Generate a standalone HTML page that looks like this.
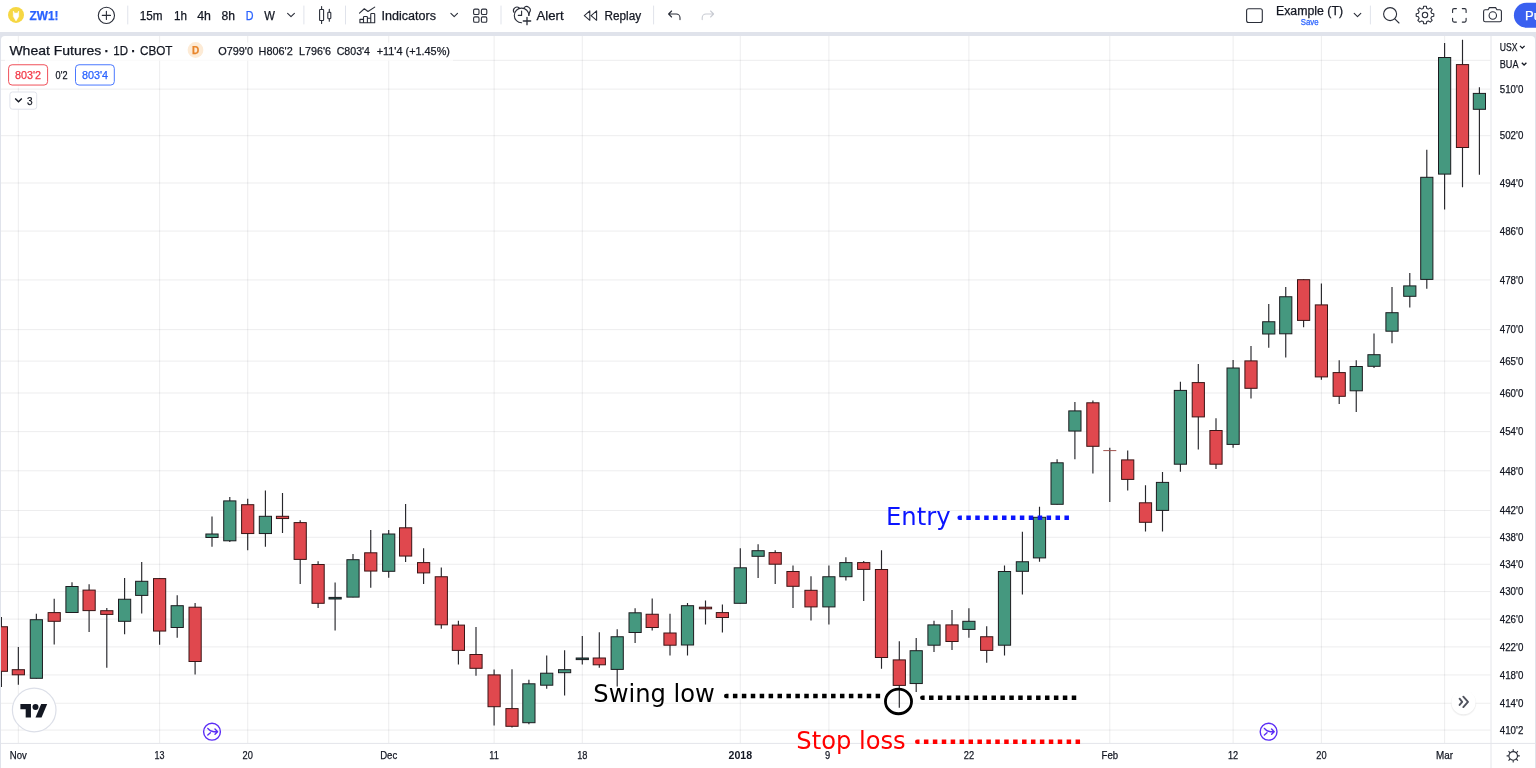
<!DOCTYPE html>
<html lang="en"><head><meta charset="utf-8"><title>Wheat Futures 1D CBOT</title>
<style>
html,body{margin:0;padding:0;background:#fff;overflow:hidden}
body{width:1536px;height:768px;position:relative;font-family:"Liberation Sans",sans-serif}
svg{position:absolute;left:0;top:0;display:block}
text{font-family:"Liberation Sans",sans-serif;fill:#131722}
.th{stroke:#131722;stroke-width:0.25px}
.dj{font-family:"DejaVu Sans","Liberation Sans",sans-serif}
.ic{fill:none;stroke:#2a2e39;stroke-width:1.1;stroke-linecap:round;stroke-linejoin:round}
</style></head><body>
<svg width="1536" height="768" viewBox="0 0 1536 768">
<rect x="0" y="0" width="1536" height="768" fill="#ffffff"/>
<rect x="0" y="32" width="1536" height="736" fill="#e0e3eb"/>
<path d="M1 768V40a4 4 0 0 1 4-4H1531a4 4 0 0 1 4 4V768z" fill="#ffffff"/>
<path d="M18.35 36V743M159.60 36V743M247.70 36V743M388.70 36V743M494.10 36V743M582.30 36V743M740.30 36V743M828.90 36V743M968.90 36V743M1109.80 36V743M1233.10 36V743M1321.40 36V743M1444.60 36V743M1 60.37H1490.5M1 89.10H1490.5M1 135.66H1490.5M1 182.97H1490.5M1 231.06H1490.5M1 279.94H1490.5M1 329.64H1490.5M1 361.14H1490.5M1 392.98H1490.5M1 431.64H1490.5M1 470.82H1490.5M1 510.53H1490.5M1 537.30H1490.5M1 564.32H1490.5M1 591.59H1490.5M1 619.12H1490.5M1 646.90H1490.5M1 674.95H1490.5M1 703.26H1490.5M1 730.06H1490.5" fill="none" stroke="rgba(42,46,57,0.085)" stroke-width="1"/>
<path d="M1491 36V768M1 743.4H1535" fill="none" stroke="#e4e5ea" stroke-width="1"/>
<path d="M1.40 617.10V686.90M18.35 646.90V684.80M36.35 613.75V678.50M54.20 598.75V644.60M72.00 582.30V612.70M89.10 584.20V632.10M106.80 608.10V667.70M124.60 578.10V634.20M141.70 561.90V613.50M159.60 578.10V644.80M177.20 595.20V637.70M195.10 603.10V674.40M212.00 516.50V546.70M229.80 497.10V542.00M247.70 498.75V550.20M265.40 490.40V546.70M282.50 493.10V533.10M300.20 520.20V584.00M318.10 561.25V607.90M335.10 582.50V630.40M353.00 554.00V597.30M370.75 530.00V587.70M388.70 530.00V577.70M405.60 504.00V561.90M423.60 548.30V584.00M441.30 567.50V628.75M458.40 620.80V664.40M476.00 627.10V675.80M494.10 669.40V725.60M512.00 669.20V727.50M528.90 679.80V724.20M546.70 655.60V688.75M564.60 650.20V695.60M582.30 636.00V664.40M599.30 632.30V667.70M617.20 629.20V686.50M635.10 608.30V642.90M652.20 598.50V630.60M670.00 613.75V655.40M687.50 603.10V655.60M705.50 600.40V624.40M722.40 604.60V632.50M740.30 548.30V603.50M758.10 544.20V577.90M775.20 550.20V584.00M793.00 565.40V608.10M811.00 576.25V620.60M828.90 565.40V624.40M845.90 557.30V580.60M863.70 561.00V601.00M881.50 550.20V668.75M899.30 641.25V707.70M916.20 637.90V692.00M934.00 620.80V651.90M952.00 610.00V650.00M968.90 608.30V637.70M986.70 626.25V662.70M1004.50 565.40V655.60M1022.40 531.70V594.60M1039.50 506.70V561.70M1057.10 459.20V504.50M1074.90 402.10V459.20M1092.90 400.40V473.50M1109.80 447.70V501.90M1127.70 450.40V490.40M1145.50 485.20V531.50M1162.50 471.90V531.50M1180.40 381.80V471.70M1198.30 364.00V449.40M1216.00 418.30V469.00M1233.10 360.00V447.70M1251.00 346.00V398.50M1268.75 304.00V347.70M1285.75 287.10V357.50M1303.60 279.20V327.30M1321.40 283.50V379.80M1339.20 360.20V404.00M1356.25 360.20V412.10M1374.00 333.50V368.10M1392.00 287.10V343.30M1409.80 272.90V307.60M1426.80 149.75V288.75M1444.60 42.90V209.60M1462.50 39.75V187.25M1479.40 87.25V174.75" fill="none" stroke="#26262b" stroke-width="1.15"/>
<g fill="#45987f" stroke="#1c1c20" stroke-width="1"><rect x="30.25" y="619.70" width="12.2" height="58.60"/><rect x="65.90" y="586.50" width="12.2" height="26.00"/><rect x="118.50" y="599.25" width="12.2" height="22.05"/><rect x="135.60" y="581.30" width="12.2" height="14.10"/><rect x="171.10" y="605.70" width="12.2" height="21.80"/><rect x="205.90" y="534.00" width="12.2" height="3.50"/><rect x="223.70" y="500.90" width="12.2" height="39.90"/><rect x="259.30" y="516.30" width="12.2" height="17.25"/><rect x="346.90" y="559.70" width="12.2" height="37.40"/><rect x="382.60" y="534.00" width="12.2" height="37.30"/><rect x="522.80" y="683.80" width="12.2" height="38.90"/><rect x="540.60" y="673.20" width="12.2" height="12.00"/><rect x="558.50" y="669.70" width="12.2" height="3.00"/><rect x="611.10" y="636.75" width="12.2" height="32.65"/><rect x="629.00" y="612.80" width="12.2" height="19.70"/><rect x="681.40" y="605.70" width="12.2" height="39.30"/><rect x="734.20" y="567.80" width="12.2" height="35.50"/><rect x="752.00" y="550.70" width="12.2" height="5.60"/><rect x="822.80" y="576.75" width="12.2" height="30.15"/><rect x="839.80" y="562.60" width="12.2" height="14.10"/><rect x="910.10" y="650.70" width="12.2" height="32.85"/><rect x="927.90" y="624.90" width="12.2" height="20.30"/><rect x="962.80" y="621.30" width="12.2" height="8.10"/><rect x="998.40" y="571.50" width="12.2" height="73.70"/><rect x="1016.30" y="561.75" width="12.2" height="9.55"/><rect x="1033.40" y="517.30" width="12.2" height="40.60"/><rect x="1051.00" y="462.80" width="12.2" height="41.50"/><rect x="1068.80" y="410.90" width="12.2" height="20.15"/><rect x="1156.40" y="482.40" width="12.2" height="28.00"/><rect x="1174.30" y="390.40" width="12.2" height="73.80"/><rect x="1227.00" y="368.00" width="12.2" height="76.40"/><rect x="1262.65" y="321.75" width="12.2" height="12.25"/><rect x="1279.65" y="296.75" width="12.2" height="37.05"/><rect x="1350.15" y="366.50" width="12.2" height="24.30"/><rect x="1367.90" y="354.70" width="12.2" height="11.60"/><rect x="1385.90" y="312.70" width="12.2" height="18.50"/><rect x="1403.70" y="285.90" width="12.2" height="10.40"/><rect x="1420.70" y="177.30" width="12.2" height="102.10"/><rect x="1438.50" y="57.50" width="12.2" height="116.60"/><rect x="1473.30" y="93.40" width="12.2" height="15.90"/></g>
<g fill="#e0484e" stroke="#3a1516" stroke-width="1"><rect x="-4.70" y="626.75" width="12.2" height="44.55"/><rect x="12.25" y="669.70" width="12.2" height="5.10"/><rect x="48.10" y="612.60" width="12.2" height="8.70"/><rect x="83.00" y="590.10" width="12.2" height="20.50"/><rect x="100.70" y="610.70" width="12.2" height="3.70"/><rect x="153.50" y="578.60" width="12.2" height="52.45"/><rect x="189.00" y="607.20" width="12.2" height="54.30"/><rect x="241.60" y="504.70" width="12.2" height="28.85"/><rect x="276.40" y="516.30" width="12.2" height="2.25"/><rect x="294.10" y="522.60" width="12.2" height="36.80"/><rect x="312.00" y="564.50" width="12.2" height="38.80"/><rect x="364.65" y="552.80" width="12.2" height="18.25"/><rect x="399.50" y="527.80" width="12.2" height="28.25"/><rect x="417.50" y="562.60" width="12.2" height="10.30"/><rect x="435.20" y="576.75" width="12.2" height="48.05"/><rect x="452.30" y="625.10" width="12.2" height="25.30"/><rect x="469.90" y="654.50" width="12.2" height="13.80"/><rect x="488.00" y="674.90" width="12.2" height="31.80"/><rect x="505.90" y="708.60" width="12.2" height="17.70"/><rect x="593.20" y="658.00" width="12.2" height="6.80"/><rect x="646.10" y="614.25" width="12.2" height="13.25"/><rect x="663.90" y="633.00" width="12.2" height="12.20"/><rect x="699.40" y="607.20" width="12.2" height="1.60"/><rect x="716.30" y="612.60" width="12.2" height="4.90"/><rect x="769.10" y="552.60" width="12.2" height="11.60"/><rect x="786.90" y="571.50" width="12.2" height="14.80"/><rect x="804.90" y="590.30" width="12.2" height="16.60"/><rect x="857.60" y="562.60" width="12.2" height="6.80"/><rect x="875.40" y="569.50" width="12.2" height="88.00"/><rect x="893.20" y="659.90" width="12.2" height="25.50"/><rect x="945.90" y="624.90" width="12.2" height="16.60"/><rect x="980.60" y="636.75" width="12.2" height="13.65"/><rect x="1086.80" y="402.80" width="12.2" height="43.50"/><rect x="1121.60" y="459.90" width="12.2" height="19.50"/><rect x="1139.40" y="502.80" width="12.2" height="19.50"/><rect x="1192.20" y="382.60" width="12.2" height="34.30"/><rect x="1209.90" y="430.50" width="12.2" height="33.70"/><rect x="1244.90" y="360.90" width="12.2" height="27.40"/><rect x="1297.50" y="279.70" width="12.2" height="40.70"/><rect x="1315.30" y="304.90" width="12.2" height="72.00"/><rect x="1333.10" y="372.60" width="12.2" height="23.70"/><rect x="1456.40" y="64.60" width="12.2" height="82.90"/></g>
<g fill="#1f5b50" stroke="#1c1c20" stroke-width="1"><rect x="329.00" y="597.40" width="12.2" height="1.60"/><rect x="576.20" y="658.00" width="12.2" height="1.60"/></g>
<path d="M1103.30 450.60H1116.30" fill="none" stroke="#a0524f" stroke-width="1"/>
<rect x="0" y="36" width="1" height="732" fill="#e0e3eb"/>
<text x="1499.80" y="92.90" font-size="11" class="th" textLength="23.50" lengthAdjust="spacingAndGlyphs">510'0</text>
<text x="1499.80" y="139.46" font-size="11" class="th" textLength="23.50" lengthAdjust="spacingAndGlyphs">502'0</text>
<text x="1499.80" y="186.77" font-size="11" class="th" textLength="23.50" lengthAdjust="spacingAndGlyphs">494'0</text>
<text x="1499.80" y="234.86" font-size="11" class="th" textLength="23.50" lengthAdjust="spacingAndGlyphs">486'0</text>
<text x="1499.80" y="283.74" font-size="11" class="th" textLength="23.50" lengthAdjust="spacingAndGlyphs">478'0</text>
<text x="1499.80" y="333.44" font-size="11" class="th" textLength="23.50" lengthAdjust="spacingAndGlyphs">470'0</text>
<text x="1499.80" y="364.94" font-size="11" class="th" textLength="23.50" lengthAdjust="spacingAndGlyphs">465'0</text>
<text x="1499.80" y="396.78" font-size="11" class="th" textLength="23.50" lengthAdjust="spacingAndGlyphs">460'0</text>
<text x="1499.80" y="435.44" font-size="11" class="th" textLength="23.50" lengthAdjust="spacingAndGlyphs">454'0</text>
<text x="1499.80" y="474.62" font-size="11" class="th" textLength="23.50" lengthAdjust="spacingAndGlyphs">448'0</text>
<text x="1499.80" y="514.33" font-size="11" class="th" textLength="23.50" lengthAdjust="spacingAndGlyphs">442'0</text>
<text x="1499.80" y="541.10" font-size="11" class="th" textLength="23.50" lengthAdjust="spacingAndGlyphs">438'0</text>
<text x="1499.80" y="568.12" font-size="11" class="th" textLength="23.50" lengthAdjust="spacingAndGlyphs">434'0</text>
<text x="1499.80" y="595.39" font-size="11" class="th" textLength="23.50" lengthAdjust="spacingAndGlyphs">430'0</text>
<text x="1499.80" y="622.92" font-size="11" class="th" textLength="23.50" lengthAdjust="spacingAndGlyphs">426'0</text>
<text x="1499.80" y="650.70" font-size="11" class="th" textLength="23.50" lengthAdjust="spacingAndGlyphs">422'0</text>
<text x="1499.80" y="678.75" font-size="11" class="th" textLength="23.50" lengthAdjust="spacingAndGlyphs">418'0</text>
<text x="1499.80" y="707.06" font-size="11" class="th" textLength="23.50" lengthAdjust="spacingAndGlyphs">414'0</text>
<text x="1499.80" y="733.86" font-size="11" class="th" textLength="23.50" lengthAdjust="spacingAndGlyphs">410'2</text>
<text x="1499.80" y="50.90" font-size="11" class="th" textLength="17.70" lengthAdjust="spacingAndGlyphs">USX</text>
<text x="1499.80" y="67.80" font-size="11" class="th" textLength="18.70" lengthAdjust="spacingAndGlyphs">BUA</text>
<path d="M1520 45.9l2.3 2.2 2.3-2.2M1521.8 62.8l2.3 2.2 2.3-2.2" fill="none" stroke="#131722" stroke-width="1.3"/>
<text x="9.85" y="759.40" font-size="11" class="th" textLength="17.00" lengthAdjust="spacingAndGlyphs">Nov</text>
<text x="154.60" y="759.40" font-size="11" class="th" textLength="10.00" lengthAdjust="spacingAndGlyphs">13</text>
<text x="242.55" y="759.40" font-size="11" class="th" textLength="10.30" lengthAdjust="spacingAndGlyphs">20</text>
<text x="380.20" y="759.40" font-size="11" class="th" textLength="17.00" lengthAdjust="spacingAndGlyphs">Dec</text>
<text x="489.35" y="759.40" font-size="11" class="th" textLength="9.50" lengthAdjust="spacingAndGlyphs">11</text>
<text x="577.15" y="759.40" font-size="11" class="th" textLength="10.30" lengthAdjust="spacingAndGlyphs">18</text>
<text x="728.50" y="759.40" font-size="11" class="th" textLength="23.60" lengthAdjust="spacingAndGlyphs" font-weight="bold" style="stroke-width:0">2018</text>
<text x="825.10" y="759.40" font-size="11" class="th" textLength="5.20" lengthAdjust="spacingAndGlyphs">9</text>
<text x="963.75" y="759.40" font-size="11" class="th" textLength="10.30" lengthAdjust="spacingAndGlyphs">22</text>
<text x="1101.55" y="759.40" font-size="11" class="th" textLength="16.50" lengthAdjust="spacingAndGlyphs">Feb</text>
<text x="1228.00" y="759.40" font-size="11" class="th" textLength="10.20" lengthAdjust="spacingAndGlyphs">12</text>
<text x="1316.25" y="759.40" font-size="11" class="th" textLength="10.30" lengthAdjust="spacingAndGlyphs">20</text>
<text x="1436.10" y="759.40" font-size="11" class="th" textLength="17.00" lengthAdjust="spacingAndGlyphs">Mar</text>
<g transform="translate(1513.2 755.9)" class="ic" style="stroke-width:1.1;stroke-linecap:butt"><circle r="4.3"/><path d="M4.40 0.00L6.60 0.00M3.11 3.11L4.67 4.67M0.00 4.40L0.00 6.60M-3.11 3.11L-4.67 4.67M-4.40 0.00L-6.60 0.00M-3.11 -3.11L-4.67 -4.67M-0.00 -4.40L-0.00 -6.60M3.11 -3.11L4.67 -4.67"/></g>
<!-- overlay widgets inside pane -->
<g>
<circle cx="34.2" cy="710" r="21.8" fill="#ffffff" stroke="#dcdfe8" stroke-width="1.2"/>
<g transform="translate(20.4 701) scale(0.755)" fill="#131722"><path d="M14 22H7V11H0V4h14v18z"/><circle cx="20" cy="8" r="4"/><path d="M28 22h-8l7.5-18h8L28 22z"/></g>
</g>
<g fill="none" stroke="#5b2df5" stroke-width="1.4" stroke-linecap="round" stroke-linejoin="round">
<g transform="translate(212 731.7)"><circle r="8.4"/><path d="M-4.2 -3.3C-2.6 -1.2 -0.6 0 1.8 0H5.2M-4.2 3.3L-1.6 1M3 -2.6L5.6 0L3 2.6"/></g>
<g transform="translate(1268.6 731.7)"><circle r="8.4"/><path d="M-4.2 -3.3C-2.6 -1.2 -0.6 0 1.8 0H5.2M-4.2 3.3L-1.6 1M3 -2.6L5.6 0L3 2.6"/></g>
</g>
<g>
<circle cx="1463.5" cy="703.4" r="12.8" fill="#000" opacity="0.035"/>
<circle cx="1463.5" cy="702.8" r="12.5" fill="#000" opacity="0.035"/>
<circle cx="1463.5" cy="702.06" r="12.2" fill="#ffffff"/>
<path d="M1459.600 698.700l2.600 3.100-2.600 3.100M1463.300 696.700l4.700 5.100-4.700 5.300" fill="none" stroke="#4f525d" stroke-width="1.9" stroke-linecap="round" stroke-linejoin="round"/>
</g>
<!-- drawn annotations -->
<g fill="none" stroke-width="4.5" stroke-dasharray="4.5 4.42">
<path d="M732.92 696.10H880.40" stroke="#000000"/><path d="M726.25 693.85h2.25v4.50h-2.25a2.25 2.25 0 0 1 0 -4.50z" fill="#000000" stroke="none"/>
<path d="M929.02 697.70H1076.80" stroke="#000000"/><path d="M922.35 695.45h2.25v4.50h-2.25a2.25 2.25 0 0 1 0 -4.50z" fill="#000000" stroke="none"/>
<path d="M966.32 517.75H1069.70" stroke="#0a14ff"/><path d="M959.65 515.50h2.25v4.50h-2.25a2.25 2.25 0 0 1 0 -4.50z" fill="#0a14ff" stroke="none"/>
<path d="M923.92 741.70H1080.30" stroke="#ff0000"/><path d="M917.25 739.45h2.25v4.50h-2.25a2.25 2.25 0 0 1 0 -4.50z" fill="#ff0000" stroke="none"/>
</g>
<ellipse cx="898.5" cy="701.4" rx="13.05" ry="12.35" fill="none" stroke="#000000" stroke-width="2.8"/>
<text class="dj" x="593.3" y="701.6" font-size="24.2" style="fill:#000000">Swing low</text>
<text class="dj" x="796.3" y="748.6" font-size="24.2" style="fill:#ff0000">Stop loss</text>
<text class="dj" x="886" y="525.3" font-size="24.3" style="fill:#0a14ff">Entry</text>

<g>
<rect x="5" y="42.500" width="448" height="18.500" fill="#ffffff" opacity="0.7"/>
<rect x="5" y="62" width="113" height="26" fill="#ffffff" opacity="0.7"/>
<text class="th" y="55" font-size="13"><tspan x="9.4" textLength="91.85" lengthAdjust="spacingAndGlyphs">Wheat Futures</tspan><tspan x="100.8" font-weight="bold"> · </tspan><tspan x="113.3" textLength="14.7" lengthAdjust="spacingAndGlyphs">1D</tspan><tspan x="127.7" font-weight="bold"> · </tspan><tspan x="140" textLength="32.5" lengthAdjust="spacingAndGlyphs">CBOT</tspan></text>
<circle cx="195.5" cy="50" r="7.9" fill="#fdebd6"/>
<text x="195.5" y="53.6" font-size="10" font-weight="bold" text-anchor="middle" style="fill:#e8852b;stroke:#e8852b;stroke-width:.25px">D</text>
<text class="th" x="218.25" y="55.4" font-size="11.5" textLength="34.75" lengthAdjust="spacingAndGlyphs">O799'0</text>
<text class="th" x="258.6" y="55.4" font-size="11.5" textLength="34.15" lengthAdjust="spacingAndGlyphs">H806'2</text>
<text class="th" x="299" y="55.4" font-size="11.5" textLength="32" lengthAdjust="spacingAndGlyphs">L796'6</text>
<text class="th" x="336.7" y="55.4" font-size="11.5" textLength="33.3" lengthAdjust="spacingAndGlyphs">C803'4</text>
<text class="th" x="376.7" y="55.4" font-size="11.5" textLength="73.3" lengthAdjust="spacingAndGlyphs">+11'4 (+1.45%)</text>
<rect x="8.6" y="64.75" width="39" height="20.3" rx="3.5" fill="#ffffff" stroke="#f0505a" stroke-width="1"/>
<text x="15" y="79.2" font-size="11" style="fill:#f23645;stroke:#f23645;stroke-width:.25px" textLength="26" lengthAdjust="spacingAndGlyphs">803'2</text>
<text class="th" x="55.6" y="79.2" font-size="11" textLength="11.9" lengthAdjust="spacingAndGlyphs">0'2</text>
<rect x="75.5" y="64.75" width="38.8" height="20.3" rx="3.5" fill="#ffffff" stroke="#4a78ff" stroke-width="1"/>
<text x="82" y="79.2" font-size="11" style="fill:#2962ff;stroke:#2962ff;stroke-width:.25px" textLength="26.1" lengthAdjust="spacingAndGlyphs">803'4</text>
<rect x="9.9" y="92" width="26.8" height="17.2" rx="2.5" fill="#ffffff" stroke="#e0e3eb" stroke-width="1"/>
<path d="M15.2 98.6l3.3 3.1 3.3-3.1" fill="none" stroke="#131722" stroke-width="1.4"/>
<text class="th" x="27" y="104.6" font-size="11" textLength="5.6" lengthAdjust="spacingAndGlyphs">3</text>
</g>

<g>
<rect x="0" y="0" width="1536" height="32" fill="#ffffff"/>
<circle cx="16.03" cy="14.95" r="8" fill="#f6d743"/>
<path d="M13.3 11L14.600 13.200Q16 12.900 17.400 13.200L18.700 11V16.600L16 20.900L13.300 16.600z" fill="#ffffff" stroke="#ffffff" stroke-width="0.5" stroke-linejoin="round"/>
<text x="29.6" y="19.6" font-size="12" font-weight="bold" style="fill:#2962ff;stroke:#2962ff;stroke-width:.25px" textLength="28.9" lengthAdjust="spacingAndGlyphs">ZW1!</text>
<g class="ic"><circle cx="106.4" cy="15.4" r="8.1"/><path d="M106.4 11.3v8.200M102.300 15.400h8.200"/></g>
<path d="M127.75 5.6V24.4M303.9 5.6V24.4M345.5 5.6V24.4M501 5.6V24.4M653.6 5.6V24.4M1370.4 5.6V24.4" fill="none" stroke="#e0e3eb" stroke-width="1"/>
<text class="th" x="139.75" y="19.6" font-size="12" textLength="22.75" lengthAdjust="spacingAndGlyphs">15m</text>
<text class="th" x="174" y="19.6" font-size="12" textLength="13" lengthAdjust="spacingAndGlyphs">1h</text>
<text class="th" x="197.25" y="19.6" font-size="12" textLength="13.75" lengthAdjust="spacingAndGlyphs">4h</text>
<text class="th" x="221.6" y="19.6" font-size="12" textLength="13.5" lengthAdjust="spacingAndGlyphs">8h</text>
<text x="245.75" y="19.6" font-size="12" style="fill:#2962ff;stroke:#2962ff;stroke-width:.25px" textLength="7.75" lengthAdjust="spacingAndGlyphs">D</text>
<text class="th" x="264.25" y="19.6" font-size="12" textLength="10.65" lengthAdjust="spacingAndGlyphs">W</text>
<path class="ic" d="M287.6 13.4l3.4 3.3 3.4-3.3"/>
<!-- candles icon -->
<g class="ic"><rect x="319.6" y="9.5" width="4" height="11" rx="0.6"/><path d="M321.6 6.6v2.9M321.6 20.5v2.9"/><rect x="327.8" y="12.3" width="3" height="6.4" rx="0.6"/><path d="M329.3 9.2v3.1M329.3 18.7v2.6"/></g>
<!-- indicators icon -->
<g class="ic" stroke-width="1.15"><path d="M359.5 13.100l4.800-4.350 3.700 2.750 6.700-4.400"/><path d="M359.900 22.700v-3.300h3.600v3.300M363.500 22.700v-5.400a.8.8 0 0 1 .8-.8h2.300a.8.8 0 0 1 .8.800v5.400M367.400 18.300h3.350M370.750 22.700v-8.400a.8.8 0 0 1 .8-.8h2.350a.8.8 0 0 1 .8.800v8.400M359.900 22.700h14.800"/></g>
<text class="th" x="381.6" y="19.6" font-size="12" textLength="54.4" lengthAdjust="spacingAndGlyphs">Indicators</text>
<path class="ic" d="M450.9 13.400l3.300 3.300 3.300-3.300"/>
<g class="ic"><rect x="473.600" y="9.100" width="5.400" height="5.400" rx="1.3"/><rect x="481.400" y="9.100" width="5.400" height="5.400" rx="1.3"/><rect x="473.600" y="16.900" width="5.400" height="5.400" rx="1.3"/><rect x="481.400" y="16.900" width="5.400" height="5.400" rx="1.3"/></g>
<!-- alert icon -->
<g class="ic" stroke-width="1.15"><path d="M528.900 15.400A7.300 7.300 0 1 0 521.600 22.700"/><path d="M521.600 11v4.400h-3.300"/><path d="M513.900 12.300A3.500 3.500 0 0 1 519.300 8M523.900 8A3.500 3.500 0 0 1 529.500 12.300L528.900 15.400"/><path d="M527 17.300v7.400M523.300 21h7.400" stroke-width="1.3"/></g>
<text class="th" x="536.5" y="19.6" font-size="12" textLength="27.1" lengthAdjust="spacingAndGlyphs">Alert</text>
<g class="ic"><path d="M589.800 10.900v9.400l-5.500-4.700zM596.600 10.900v9.400l-5.500-4.700z"/></g>
<text class="th" x="604.5" y="19.6" font-size="12" textLength="36.6" lengthAdjust="spacingAndGlyphs">Replay</text>
<path class="ic" d="M671.600 11l-3 3 3 3M668.800 14h7.400a3.800 3.800 0 0 1 3.800 3.800v1.800"/>
<path class="ic" d="M710.600 11l3 3-3 3M713.400 14h-7.400a3.800 3.800 0 0 0-3.800 3.800v1.800" style="stroke:#c9ccd3"/>
<!-- right group -->
<rect class="ic" x="1246.600" y="8.700" width="15.700" height="13.800" rx="2"/>
<text class="th" x="1276" y="15.25" font-size="12" textLength="67" lengthAdjust="spacingAndGlyphs">Example (T)</text>
<text x="1300.75" y="24.9" font-size="8.5" style="fill:#2962ff;stroke:#2962ff;stroke-width:.25px" textLength="17.85" lengthAdjust="spacingAndGlyphs">Save</text>
<path class="ic" d="M1354.200 13.400l3.300 3.300 3.300-3.300"/>
<g class="ic"><circle cx="1390.100" cy="14.100" r="6.500"/><path d="M1394.800 18.800l4.200 4.200"/></g>
<!-- gear -->
<g class="ic" transform="translate(1425 15)" stroke-width="1.15"><circle r="2.700"/><path d="M-1.76 -6.57L-1.32 -8.80L1.32 -8.80L1.76 -6.57L3.40 -5.89L5.29 -7.15L7.15 -5.29L5.89 -3.40L6.57 -1.76L8.80 -1.32L8.80 1.32L6.57 1.76L5.89 3.40L7.15 5.29L5.29 7.15L3.40 5.89L1.76 6.57L1.32 8.80L-1.32 8.80L-1.76 6.57L-3.40 5.89L-5.29 7.15L-7.15 5.29L-5.89 3.40L-6.57 1.76L-8.80 1.32L-8.80 -1.32L-6.57 -1.76L-5.89 -3.40L-7.15 -5.29L-5.29 -7.15L-3.40 -5.89z"/></g>
<path class="ic" d="M1452.600 12.400v-2.300a1.500 1.500 0 0 1 1.500-1.500h2.300M1462.300 8.600h2.300a1.500 1.500 0 0 1 1.500 1.500v2.300M1466.100 18.300v2.300a1.500 1.500 0 0 1-1.500 1.500h-2.300M1456.400 22.100h-2.300a1.500 1.500 0 0 1-1.500-1.500v-2.300"/>
<g class="ic"><path d="M1485.200 9.800h2.900l1.300-2.200h6.200l1.300 2.200h2.900a1.600 1.600 0 0 1 1.600 1.600v8.800a1.600 1.600 0 0 1-1.600 1.600h-14.600a1.600 1.600 0 0 1-1.600-1.600v-8.800a1.600 1.600 0 0 1 1.600-1.600z"/><circle cx="1492.800" cy="15.500" r="3.700"/></g>
<rect x="1513.900" y="2.800" width="60" height="24.900" rx="12.450" fill="#3a60f0"/>
<text x="1525" y="19.800" font-size="13" style="fill:#ffffff;stroke:#ffffff;stroke-width:.25px">Publish</text>
</g>

</svg>
</body></html>
